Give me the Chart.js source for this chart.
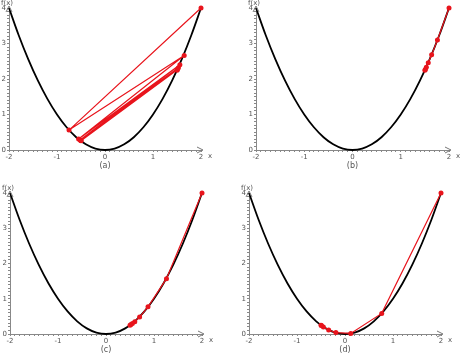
<!DOCTYPE html>
<html>
<head>
<meta charset="utf-8">
<script src="https://cdn.jsdelivr.net/npm/chart.js@4.4.1/dist/chart.umd.min.js"></script>
<style>
  body { margin: 0; background: #fff; }
  #wrap { position: relative; width: 474px; height: 361px; }
  .panel { position: absolute; }
</style>
</head>
<body>
<div id="wrap">
  <div class="panel" style="left:0;top:0;width:237px;height:180px"><canvas id="ca"></canvas></div>
  <div class="panel" style="left:237px;top:0;width:237px;height:180px"><canvas id="cb"></canvas></div>
  <div class="panel" style="left:0;top:180px;width:237px;height:181px"><canvas id="cc"></canvas></div>
  <div class="panel" style="left:237px;top:180px;width:237px;height:181px"><canvas id="cd"></canvas></div>
</div>
<script>
// f(x) curve
const curveX = [-2, -1.8, -1.6, -1.4, -1.2, -1, -0.8, -0.6, -0.4, -0.2, 0, 0.2, 0.4, 0.6, 0.8, 1, 1.2, 1.4, 1.6, 1.8, 2];
const curveY = [4, 3.24, 2.56, 1.96, 1.44, 1, 0.64, 0.36, 0.16, 0.04, 0, 0.04, 0.16, 0.36, 0.64, 1, 1.44, 1.96, 2.56, 3.24, 4];

// red iteration paths
const pathAX = [2, -0.75, 1.65, -0.55, 1.56, -0.52, 1.53, -0.5, 1.51, -0.5, 1.5];
const pathAY = [4, 0.56, 2.66, 0.31, 2.4, 0.28, 2.32, 0.27, 2.27, 0.26, 2.25];
const pathBX = [2, 1.76, 1.64, 1.57, 1.53, 1.51, 1.5];
const pathBY = [4, 3.1, 2.68, 2.46, 2.33, 2.27, 2.25];
const pathCX = [2, 1.26, 0.875, 0.7, 0.6, 0.55, 0.52, 0.5];
const pathCY = [4, 1.57, 0.77, 0.48, 0.35, 0.3, 0.27, 0.25];
const pathDX = [2, 0.765, 0.12, -0.19, -0.34, -0.45, -0.49, -0.5];
const pathDY = [4, 0.585, 0.015, 0.04, 0.115, 0.2, 0.24, 0.25];

const panelLabels = ['(a)', '(b)', '(c)', '(d)'];

function pts(xs, ys) {
  return xs.map((x, i) => ({ x: x, y: ys[i] }));
}

const isInt = v => Math.abs(v - Math.round(v)) < 1e-6;

const decor = {
  id: 'decor',
  afterDraw(chart, args, opts) {
    const ctx = chart.ctx;
    const a = chart.chartArea;
    ctx.save();
    ctx.strokeStyle = '#777';
    ctx.fillStyle = '#777';
    ctx.lineWidth = 1;
    // arrows at axis ends
    ctx.beginPath();
    ctx.moveTo(a.right - 4, a.bottom - 3);
    ctx.lineTo(a.right + 2, a.bottom);
    ctx.lineTo(a.right - 4, a.bottom + 3);
    ctx.moveTo(a.left - 3, a.top + 4);
    ctx.lineTo(a.left, a.top - 2);
    ctx.lineTo(a.left + 3, a.top + 4);
    ctx.stroke();
    ctx.font = '7px "DejaVu Sans"';
    ctx.fillStyle = '#555';
    ctx.textBaseline = 'middle';
    ctx.textAlign = 'left';
    ctx.fillText('x', a.right + 7, a.bottom + 6);
    ctx.fillText('f(x)', a.left - 8, a.top - 5);
    ctx.font = '8px "DejaVu Sans"';
    ctx.textAlign = 'center';
    ctx.fillText(opts.label, (a.left + a.right) / 2, a.bottom + 16);
    ctx.restore();
  }
};

function makeChart(id, px, py, label, pad) {
  new Chart(document.getElementById(id), {
    type: 'scatter',
    data: {
      datasets: [
        {
          data: pts(px, py),
          showLine: true,
          borderColor: '#e8141c',
          backgroundColor: '#e8141c',
          borderWidth: 1.2,
          pointRadius: 2.5,
          pointBorderWidth: 0,
          clip: false
        },
        {
          data: pts(curveX, curveY),
          showLine: true,
          borderColor: '#000',
          borderWidth: 1.8,
          pointRadius: 0,
          cubicInterpolationMode: 'monotone',
          clip: false
        }
      ]
    },
    options: {
      responsive: true,
      maintainAspectRatio: false,
      animation: false,
      events: [],
      layout: { padding: pad },
      plugins: {
        legend: { display: false },
        tooltip: { enabled: false },
        decor: { label: label }
      },
      scales: {
        x: {
          type: 'linear',
          min: -2,
          max: 2,
          afterFit: s => { s.height = 12; },
          border: { display: true, color: '#888', width: 1 },
          grid: { drawOnChartArea: false, drawTicks: true, tickLength: 2, color: '#888' },
          ticks: {
            stepSize: 0.1,
            autoSkip: false,
            maxRotation: 0,
            padding: 1,
            color: '#555',
            font: { size: 7, family: 'DejaVu Sans' },
            callback: v => isInt(v) ? String(Math.round(v)) : ''
          }
        },
        y: {
          type: 'linear',
          min: 0,
          max: 4,
          afterFit: s => { s.width = 9; },
          border: { display: true, color: '#888', width: 1 },
          grid: { drawOnChartArea: false, drawTicks: true, tickLength: 2, color: '#888' },
          ticks: {
            stepSize: 0.1,
            autoSkip: false,
            padding: 1,
            color: '#555',
            font: { size: 7, family: 'DejaVu Sans' },
            callback: v => isInt(v) ? String(Math.round(v)) : ''
          }
        }
      }
    },
    plugins: [decor]
  });
}

makeChart('ca', pathAX, pathAY, panelLabels[0], { left: 0, top: 8, right: 36, bottom: 18 });
makeChart('cb', pathBX, pathBY, panelLabels[1], { left: 10, top: 8, right: 25, bottom: 18 });
makeChart('cc', pathCX, pathCY, panelLabels[2], { left: 1, top: 13, right: 35, bottom: 15 });
makeChart('cd', pathDX, pathDY, panelLabels[3], { left: 3, top: 13, right: 33, bottom: 15 });
</script>
</body>
</html>
